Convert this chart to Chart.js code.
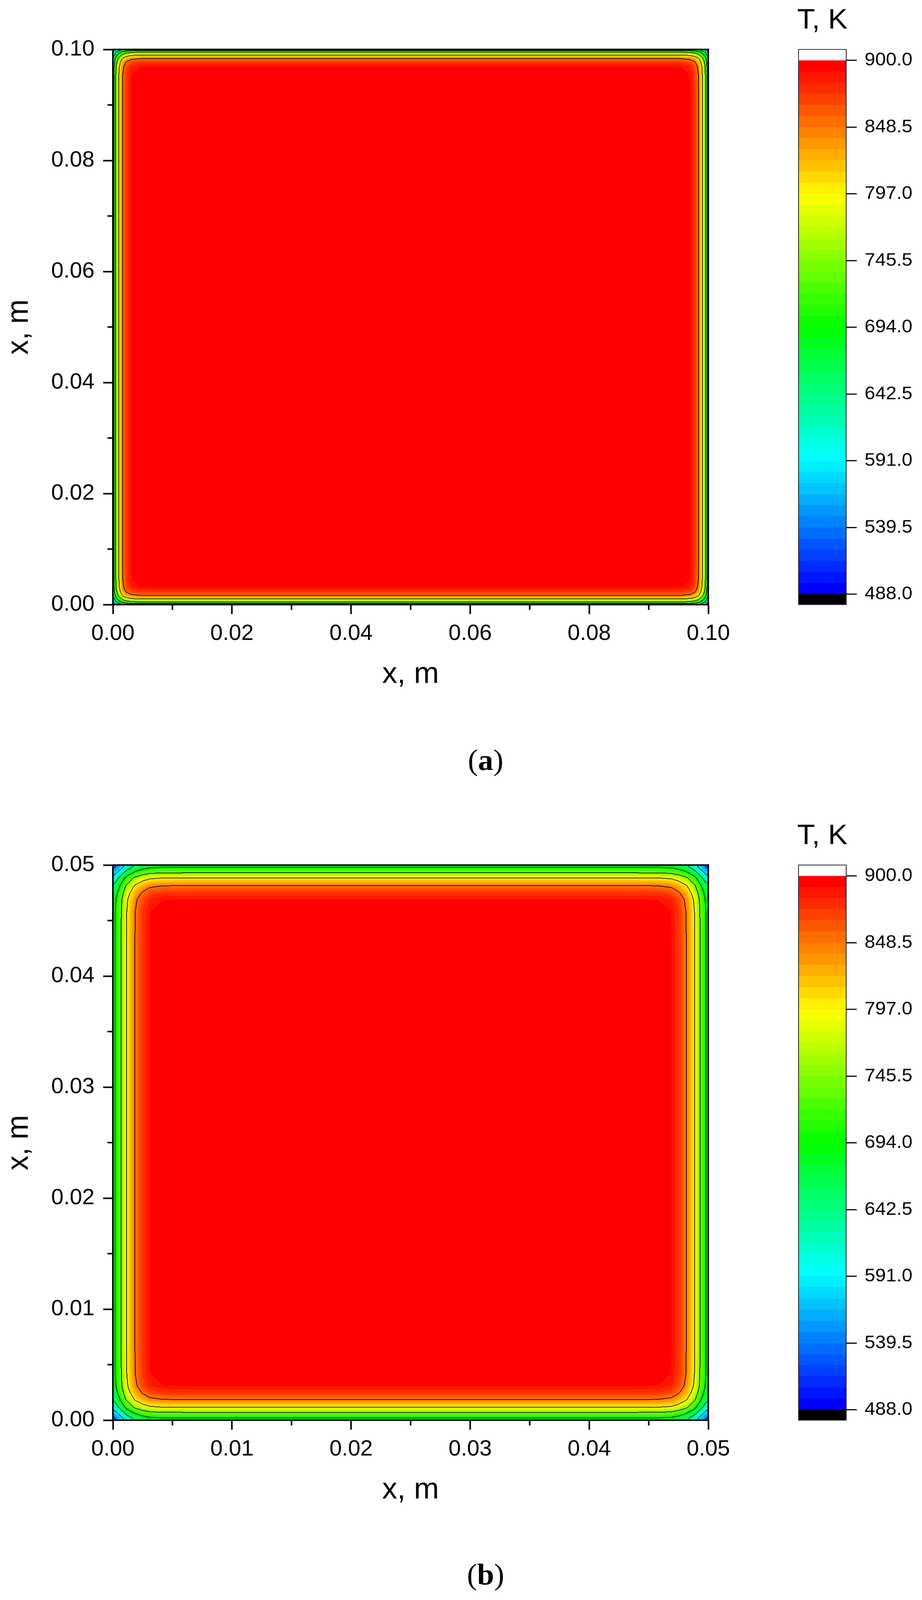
<!DOCTYPE html>
<html><head><meta charset="utf-8">
<script src="https://cdn.jsdelivr.net/npm/chart.js@4.4.1/dist/chart.umd.min.js"></script>
<style>
html,body{margin:0;padding:0;background:#fff;overflow:hidden;}
#page{position:absolute;left:0;top:0;width:2360px;height:4208px;transform-origin:0 0;background:#fff;}
canvas{position:absolute;}
.lab{position:absolute;font-family:'Liberation Serif','Times New Roman',serif;font-size:78px;line-height:78px;color:#000;transform:translateX(-50%);white-space:nowrap;}
</style></head><body>
<div id="page">
<canvas id="plotA" width="1900" height="1900" style="left:0px;top:0px;width:1900px;height:1900px"></canvas>
<canvas id="barA" width="510" height="1700" style="left:1850px;top:0px;width:510px;height:1700px"></canvas>
<div class="lab" style="left:1243px;top:1960px">(<b>a</b>)</div>
<canvas id="plotB" width="1900" height="1900" style="left:0px;top:2145px;width:1900px;height:1900px"></canvas>
<canvas id="barB" width="510" height="1700" style="left:1850px;top:2145px;width:510px;height:1700px"></canvas>
<div class="lab" style="left:1243px;top:4102px">(<b>b</b>)</div>
</div>
<script>
// fit the 2360x4208 figure into the real viewport height (vertical only)
(function () {
  const s = Math.min(1, window.innerHeight / 4208);
  document.getElementById('page').style.transform = 'scale(1,' + s + ')';
})();

Chart.defaults.font.family = "'Liberation Sans', Arial, sans-serif";
Chart.defaults.color = '#000';

// ---------------- data ----------------
const ticksA = [0.00, 0.02, 0.04, 0.06, 0.08, 0.10];
const minorTicksA = [0.01, 0.03, 0.05, 0.07, 0.09];
const ticksB = [0.00, 0.01, 0.02, 0.03, 0.04, 0.05];
const minorTicksB = [0.005, 0.015, 0.025, 0.035, 0.045];
const colorbarTicks = [488.0, 539.5, 591.0, 642.5, 694.0, 745.5, 797.0, 848.5, 900.0];
const contourLineLevels = [539.5, 591.0, 642.5, 694.0, 745.5, 797.0, 848.5];
const fillLevelCount = 48;
const belowRange = [480.0, 488.0];
const aboveRange = [900.0, 908.5];
// temperature across the wall layer at mid-edge: distance from wall (m) / T (K)
const wallDistA = [0, 0.00020, 0.00048, 0.00100, 0.00165, 0.00230, 0.00310, 0.00450, 0.00700];
const wallTempA = [680, 694.0, 745.5, 797.0, 848.5, 876, 892, 899, 900];
const cornerTempA = 555;
const wallDistB = [0, 0.00020, 0.00070, 0.00115, 0.00185, 0.00250, 0.00310, 0.00420, 0.00650];
const wallTempB = [683, 694.0, 745.5, 797.0, 848.5, 876, 892, 899, 900];
const cornerTempB = 525;
// colour map stops (Rainbow): blue, cyan, green, yellow, red
const paletteStops = [[0,0,255],[0,255,255],[0,255,0],[255,255,0],[255,0,0]];
// -------------------------------------------------------------

const panels = {
  A: {dist: wallDistA, temp: wallTempA, corner: cornerTempA, minor: minorTicksA},
  B: {dist: wallDistB, temp: wallTempB, corner: cornerTempB, minor: minorTicksB}
};
function interp(xs, ys, v) {
  if (v <= xs[0]) return ys[0];
  for (let i = 0; i < xs.length - 1; i++) {
    if (v <= xs[i+1]) return ys[i] + (ys[i+1]-ys[i])*(v-xs[i])/(xs[i+1]-xs[i]);
  }
  return ys[ys.length-1];
}
function paletteColor(t) {
  const n = paletteStops.length - 1;
  const s = Math.max(0, Math.min(1, t)) * n;
  const i = Math.min(Math.floor(s), n - 1), f = s - i;
  const a = paletteStops[i], b = paletteStops[i+1];
  return [0,1,2].map(k => Math.round(a[k] + (b[k]-a[k])*f));
}
const fillMin = colorbarTicks[0], fillMax = colorbarTicks[colorbarTicks.length-1];
const fillStep = (fillMax - fillMin) / fillLevelCount;
const bandColors = Array.from({length: fillLevelCount}, (_, i) => paletteColor(i/(fillLevelCount-1)));
const rgb = c => `rgb(${c[0]},${c[1]},${c[2]})`;

const fieldPlugin = {
  id: 'field',
  beforeDatasetsDraw(chart, args, opts) {
    const p = panels[opts.panel];
    const {ctx, chartArea: ca, scales: {x, y}} = chart;
    const w = Math.round(ca.right - ca.left), h = Math.round(ca.bottom - ca.top);
    const Tc = p.temp[p.temp.length-1], Tw = p.temp[0];
    const a = (Tw - p.corner) / (Tc - Tw);
    const D = (Tc - Tw) / (1 - a), Tref = Tc - D;
    const u = d => (interp(p.dist, p.temp, d) - Tref) / D;
    const ux = new Float64Array(w), uy = new Float64Array(h);
    for (let i = 0; i < w; i++) { const v = x.getValueForPixel(ca.left + i + 0.5); ux[i] = u(Math.max(0, Math.min(v - x.min, x.max - v))); }
    for (let j = 0; j < h; j++) { const v = y.getValueForPixel(ca.top + j + 0.5); uy[j] = u(Math.max(0, Math.min(v - y.min, y.max - v))); }
    const img = new ImageData(w, h), px = img.data;
    const lvl = new Uint8Array(w*h);
    for (let j = 0; j < h; j++) {
      for (let i = 0; i < w; i++) {
        let T = Tref + D*ux[i]*uy[j];
        if (T > fillMax - 1e-6) T = fillMax - 1e-6;
        const idx = j*w + i;
        const c = T < fillMin ? [0,0,0] : bandColors[Math.min(fillLevelCount-1, Math.floor((T - fillMin)/fillStep))];
        px[idx*4] = c[0]; px[idx*4+1] = c[1]; px[idx*4+2] = c[2]; px[idx*4+3] = 255;
        let k = 0; for (const L of contourLineLevels) if (T >= L) k++;
        lvl[idx] = k;
      }
    }
    for (let j = 0; j < h; j++) for (let i = 0; i < w; i++) {
      const idx = j*w + i, k = lvl[idx];
      if ((i+1 < w && lvl[idx+1] !== k) || (i > 0 && lvl[idx-1] !== k) || (j+1 < h && lvl[idx+w] !== k) || (j > 0 && lvl[idx-w] !== k)) {
        const q = idx*4; px[q] = Math.round(px[q]*0.12); px[q+1] = Math.round(px[q+1]*0.12); px[q+2] = Math.round(px[q+2]*0.12);
      }
    }
    const off = document.createElement('canvas'); off.width = w; off.height = h;
    off.getContext('2d').putImageData(img, 0, 0);
    ctx.drawImage(off, ca.left, ca.top);
  }
};
const framePlugin = {
  id: 'frame',
  afterDatasetsDraw(chart, args, opts) {
    const {ctx, chartArea: ca, scales} = chart;
    ctx.save(); ctx.strokeStyle = opts.color || '#000'; ctx.lineWidth = opts.width;
    ctx.strokeRect(ca.left, ca.top, ca.right - ca.left, ca.bottom - ca.top);
    if (opts.panel) {
      const minor = panels[opts.panel].minor;
      ctx.lineWidth = 4; ctx.beginPath();
      for (const v of minor) {
        const xp = scales.x.getPixelForValue(v); ctx.moveTo(xp, ca.bottom); ctx.lineTo(xp, ca.bottom + opts.minorLen);
        const yp = scales.y.getPixelForValue(v); ctx.moveTo(ca.left, yp); ctx.lineTo(ca.left - opts.minorLen, yp);
      }
      ctx.stroke();
    }
    ctx.restore();
  }
};
function axisCommon(ticks, max, isX) {
  return {
    type: 'linear', min: 0, max: max,
    afterBuildTicks: s => { s.ticks = ticks.map(v => ({value: v})); },
    afterFit: isX ? (s => { s.height = 310; }) : (s => { s.width = 289; }),
    ticks: {callback: v => Number(v).toFixed(2), font: {size: 57}, padding: isX ? 18 : 22, maxRotation: 0, autoSkip: false, color: '#000'},
    grid: {display: true, drawOnChartArea: false, drawTicks: true, tickLength: 25, tickWidth: 4, tickColor: '#000'},
    border: {display: true, width: 4, color: '#000'},
    title: {display: true, text: 'x, m', font: {size: 77}, color: '#000', padding: isX ? {top: 0, bottom: 79} : {top: 4, bottom: 0}}
  };
}
function makePlot(id, key, ticks, minor, max) {
  return new Chart(document.getElementById(id), {
    type: 'scatter', data: {datasets: []},
    options: {
      responsive: false, animation: false, devicePixelRatio: 1, events: [],
      layout: {padding: {top: 130, right: 87, left: 0, bottom: 0}},
      plugins: {legend: {display: false}, tooltip: {enabled: false}, field: {panel: key}, frame: {width: 4, panel: key, minorLen: 14}},
      scales: {x: axisCommon(ticks, max, true), y: axisCommon(ticks, max, false)}
    },
    plugins: [fieldPlugin, framePlugin]
  });
}
function makeBar(id) {
  const datasets = [{data: [belowRange], backgroundColor: '#000'}];
  for (let i = 0; i < fillLevelCount; i++) datasets.push({data: [[fillMin + i*fillStep, fillMin + (i+1)*fillStep]], backgroundColor: rgb(bandColors[i])});
  datasets.push({data: [aboveRange], backgroundColor: '#fff'});
  datasets.forEach(d => Object.assign(d, {borderWidth: 0, barPercentage: 1, categoryPercentage: 1, grouped: false, yAxisID: 'y', xAxisID: 'x'}));
  return new Chart(document.getElementById(id), {
    type: 'bar', data: {labels: ['T'], datasets},
    options: {
      responsive: false, animation: false, devicePixelRatio: 1, events: [],
      layout: {padding: {top: 0, left: 0, right: 0, bottom: 110}},
      plugins: {legend: {display: false}, tooltip: {enabled: false},
                title: {display: true, text: 'T, K', font: {size: 75, weight: 'normal'}, color: '#000', padding: {top: 9, bottom: 31}},
                frame: {width: 2, color: '#222'}},
      scales: {
        x: {display: false, stacked: true},
        y: {type: 'linear', position: 'right', min: belowRange[0], max: aboveRange[1],
            afterBuildTicks: s => { s.ticks = colorbarTicks.map(v => ({value: v})); },
            afterFit: s => { s.width = 194; },
            ticks: {callback: v => Number(v).toFixed(1), font: {size: 49}, padding: 20, color: '#000', autoSkip: false},
            grid: {display: true, drawOnChartArea: false, drawTicks: true, tickLength: 27, tickWidth: 3, tickColor: '#000'},
            border: {display: false}},
        yL: {type: 'linear', position: 'left', display: true, ticks: {display: false}, grid: {display: false}, border: {display: false}, afterFit: s => { s.width = 194; }}
      }
    },
    plugins: [framePlugin]
  });
}
makePlot('plotA', 'A', ticksA, minorTicksA, 0.10);
makeBar('barA');
makePlot('plotB', 'B', ticksB, minorTicksB, 0.05);
makeBar('barB');
</script>
</body></html>
